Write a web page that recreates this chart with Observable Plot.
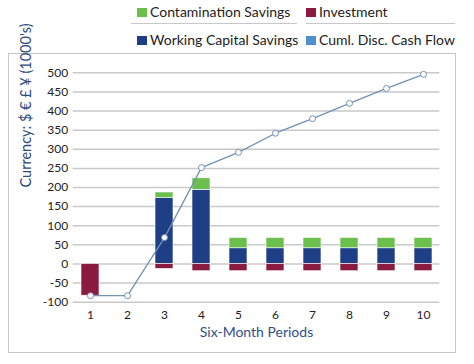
<!DOCTYPE html>
<html>
<head>
<meta charset="utf-8">
<script src="https://cdn.jsdelivr.net/npm/d3@7"></script>
<script src="https://cdn.jsdelivr.net/npm/@observablehq/plot@0.6"></script>
<style>
  html, body { margin: 0; padding: 0; background: #fff; }
  #wrap { position: relative; width: 474px; height: 364px; overflow: hidden; font-family: Lato, "Open Sans", sans-serif; }
  .lg { position: absolute; font-size: 14px; color: #222; white-space: nowrap; line-height: 16px; }
  .sw { position: absolute; width: 10px; height: 9px; }
  .sep { position: absolute; height: 0; border-top: 1.5px solid #c8c8c8; }
  #frame { position: absolute; left: 8px; top: 53px; width: 448px; height: 300px; box-sizing: border-box; border: 1.5px solid #c6c6c6; }
  #chart { position: absolute; left: 0; top: 54px; }
</style>
</head>
<body>
<div id="wrap">
  <div id="legend"></div>
  <div id="frame"></div>
  <div id="chart"></div>
</div>
<script>
const periods = [1, 2, 3, 4, 5, 6, 7, 8, 9, 10];
const workingCapital = [0, 0, 172, 194, 41, 41, 41, 41, 41, 41];
const contamination = [0, 0, 15, 30, 27, 27, 27, 27, 27, 27];
const investment = [-83, 0, -13, -19, -19, -19, -19, -19, -19, -19];
const cumulative = [-83, -83, 69, 252, 292, 342, 380, 420, 459, 496];
const yTicks = [-100, -50, 0, 50, 100, 150, 200, 250, 300, 350, 400, 450, 500];
const seriesNames = ["Working Capital Savings", "Contamination Savings", "Investment"];
const seriesColors = ["#1e3f86", "#6bbf4c", "#8b1a40"];
const lineName = "Cuml. Disc. Cash Flow";
const lineColor = "#7391b3";
const legendColor = "#4e8fd0";
const xLabel = "Six-Month Periods";
const yLabel = "Currency: $ € £ ¥ (1000's)";

// legend (HTML above the chart)
const legendItems = [
  {name: "Contamination Savings", color: "#6bbf4c", x: 137, y: 4},
  {name: "Investment", color: "#8b1a40", x: 306, y: 4},
  {name: "Working Capital Savings", color: "#1e3f86", x: 137, y: 32},
  {name: lineName, color: legendColor, x: 306, y: 32}
];
const lg = document.getElementById("legend");
for (const it of legendItems) {
  const sw = document.createElement("div");
  sw.className = "sw";
  sw.style.left = it.x + "px";
  sw.style.top = (it.y + 4) + "px";
  sw.style.background = it.color;
  lg.appendChild(sw);
  const t = document.createElement("div");
  t.className = "lg";
  t.style.left = (it.x + 13) + "px";
  t.style.top = it.y + "px";
  t.textContent = it.name;
  lg.appendChild(t);
}
for (const s of [{x: 131, w: 166}, {x: 306, w: 149}]) {
  const d = document.createElement("div");
  d.className = "sep";
  d.style.left = s.x + "px";
  d.style.top = "23px";
  d.style.width = s.w + "px";
  lg.appendChild(d);
}

const bars = [];
const seriesArrays = [workingCapital, contamination, investment];
seriesNames.forEach((name, k) => {
  periods.forEach((p, i) => {
    const v = seriesArrays[k][i];
    if (v !== 0) bars.push({period: p, series: name, value: v});
  });
});
const lineData = periods.map((p, i) => ({period: p, value: cumulative[i]}));

const chart = Plot.plot({
  width: 474,
  height: 300,
  marginTop: 18.3,
  marginBottom: 52.3,
  marginLeft: 72.7,
  marginRight: 34.7,
  style: {fontFamily: "Lato, 'Open Sans', sans-serif", fontSize: "12px", color: "#222", background: "transparent", overflow: "visible"},
  x: {type: "band", domain: periods, paddingInner: 0.52, paddingOuter: 0.115, label: null, tickSize: 0, tickPadding: 8},
  y: {domain: [-100, 500], ticks: yTicks, tickSize: 0, tickPadding: 5, label: null, tickFormat: d => String(d)},
  color: {domain: seriesNames, range: seriesColors},
  marks: [
    Plot.ruleY(yTicks, {stroke: "#c9c9c9", strokeWidth: 1.5}),
    Plot.barY(bars, {x: "period", y: "value", fill: "series", stroke: "white", strokeWidth: 0.6}),
    Plot.line(lineData, {x: "period", y: "value", stroke: lineColor, strokeWidth: 1.3}),
    Plot.dot(lineData, {x: "period", y: "value", r: 3, fill: "white", stroke: lineColor, strokeWidth: 1}),
    Plot.text([xLabel], {frameAnchor: "bottom", dy: 35, fill: "#2f4f85", fontSize: 14}),
    Plot.text([yLabel], {frameAnchor: "left", dx: -47, rotate: -90, fill: "#2c4a7c", fontSize: 14.5})
  ]
});
document.getElementById("chart").appendChild(chart);
</script>
</body>
</html>
